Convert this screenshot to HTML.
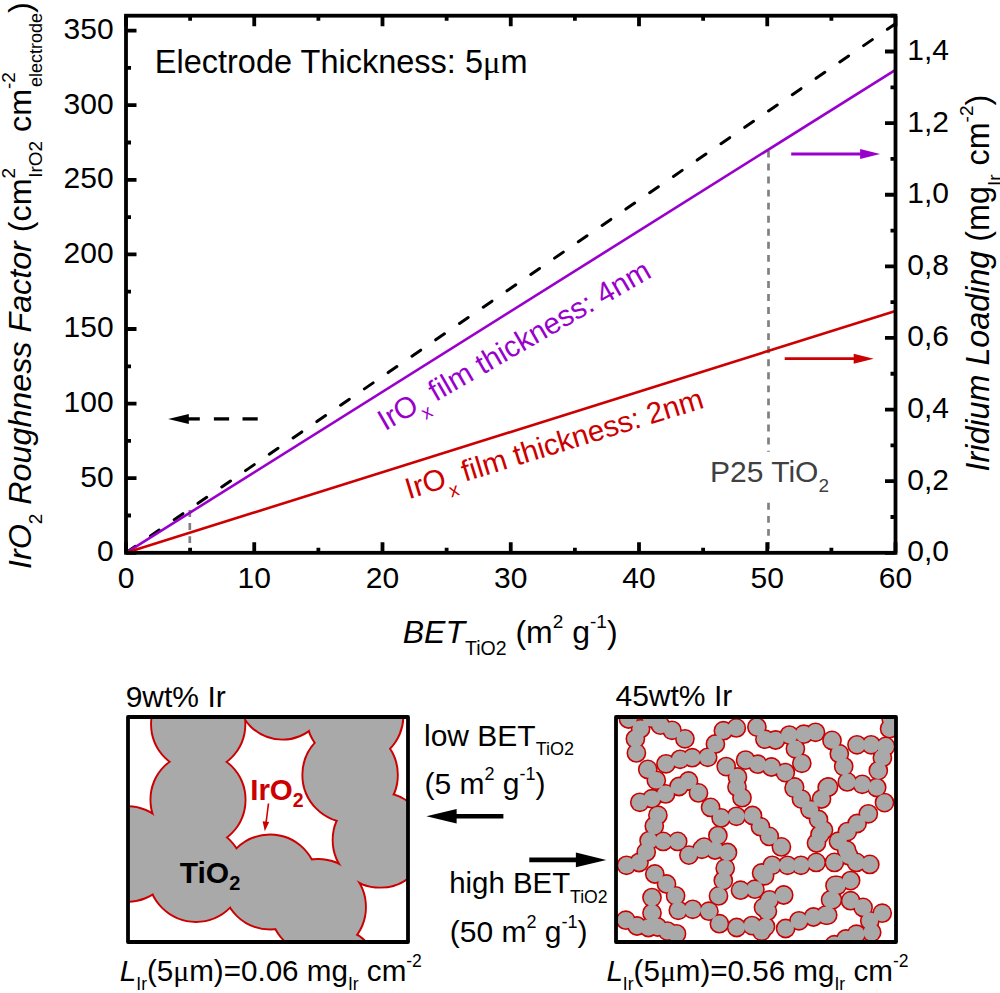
<!DOCTYPE html>
<html><head><meta charset="utf-8">
<style>
html,body{margin:0;padding:0;background:#fff;width:1000px;height:993px;overflow:hidden}
svg{display:block}
text{font-family:"Liberation Sans",sans-serif;}
.it{font-style:italic}
</style></head><body>
<svg width="1000" height="993" viewBox="0 0 1000 993">
<!-- ===== CHART ===== -->
<g id="chart">
<!-- gray dashed verticals -->
<line x1="189.8" y1="510" x2="189.8" y2="551" stroke="#808080" stroke-width="2.7" stroke-dasharray="6.9 6.2"/>
<line x1="768.5" y1="150.5" x2="768.5" y2="551" stroke="#808080" stroke-width="2.7" stroke-dasharray="6.9 6.15"/>
<rect x="760" y="451.8" width="17" height="50.2" fill="#fff"/>
<!-- data lines -->
<line x1="126" y1="552.8" x2="895.5" y2="23.7" stroke="#000" stroke-width="3" stroke-dasharray="10.6 18.25" stroke-dashoffset="-0.8" stroke-linecap="round"/>
<line x1="126" y1="552.8" x2="895.5" y2="69.8" stroke="#9900CC" stroke-width="2.6"/>
<line x1="126" y1="552.8" x2="895.5" y2="311" stroke="#CC0000" stroke-width="2.6"/>
<!-- arrows -->
<line x1="791.2" y1="154" x2="862" y2="154" stroke="#9900CC" stroke-width="2.8"/>
<polygon points="880.1,154 860.1,149 860.1,159" fill="#9900CC"/>
<line x1="784.7" y1="358.7" x2="856" y2="358.7" stroke="#CC0000" stroke-width="2.8"/>
<polygon points="873.7,358.7 853.7,353.7 853.7,363.7" fill="#CC0000"/>
<polygon points="168.2,418.9 188.8,413.9 188.8,423.9" fill="#000"/>
<line x1="186" y1="418.9" x2="199.8" y2="418.9" stroke="#000" stroke-width="3.3"/>
<line x1="213.9" y1="418.9" x2="229.1" y2="418.9" stroke="#000" stroke-width="3.3"/>
<line x1="242.5" y1="418.9" x2="257.7" y2="418.9" stroke="#000" stroke-width="3.3"/>
<!-- frame -->
<rect x="126" y="15.7" width="769.5" height="537.1" fill="none" stroke="#000" stroke-width="3.8"/>
<!-- ticks -->
<path d="M126,552.80h10.5M126,515.50h5M126,478.20h10.5M126,440.90h5M126,403.61h10.5M126,366.31h5M126,329.01h10.5M126,291.71h5M126,254.41h10.5M126,217.11h5M126,179.81h10.5M126,142.52h5M126,105.22h10.5M126,67.92h5M126,30.62h10.5M895.5,552.80h-10.5M895.5,516.99h-5M895.5,481.19h-10.5M895.5,445.38h-5M895.5,409.57h-10.5M895.5,373.77h-5M895.5,337.96h-10.5M895.5,302.15h-5M895.5,266.35h-10.5M895.5,230.54h-5M895.5,194.73h-10.5M895.5,158.93h-5M895.5,123.12h-10.5M895.5,87.31h-5M895.5,51.51h-10.5M895.5,15.70h-5M126.00,552.8v-10.5M126.00,15.7v10.5M190.12,552.8v-5M190.12,15.7v5M254.25,552.8v-10.5M254.25,15.7v10.5M318.38,552.8v-5M318.38,15.7v5M382.50,552.8v-10.5M382.50,15.7v10.5M446.62,552.8v-5M446.62,15.7v5M510.75,552.8v-10.5M510.75,15.7v10.5M574.88,552.8v-5M574.88,15.7v5M639.00,552.8v-10.5M639.00,15.7v10.5M703.12,552.8v-5M703.12,15.7v5M767.25,552.8v-10.5M767.25,15.7v10.5M831.38,552.8v-5M831.38,15.7v5M895.50,552.8v-10.5M895.50,15.7v10.5" stroke="#000" stroke-width="3.8" fill="none"/>
<!-- tick labels -->
<g font-size="30" text-anchor="end"><text x="113.6" y="561.20">0</text><text x="113.6" y="486.60">50</text><text x="113.6" y="412.01">100</text><text x="113.6" y="337.41">150</text><text x="113.6" y="262.81">200</text><text x="113.6" y="188.21">250</text><text x="113.6" y="113.62">300</text><text x="113.6" y="39.02">350</text></g>
<g font-size="30" text-anchor="middle"><text x="126.00" y="588">0</text><text x="254.25" y="588">10</text><text x="382.50" y="588">20</text><text x="510.75" y="588">30</text><text x="639.00" y="588">40</text><text x="767.25" y="588">50</text><text x="895.50" y="588">60</text></g>
<g font-size="30" text-anchor="start"><text x="907.3" y="561.20">0,0</text><text x="907.3" y="489.59">0,2</text><text x="907.3" y="417.97">0,4</text><text x="907.3" y="346.36">0,6</text><text x="907.3" y="274.75">0,8</text><text x="907.3" y="203.13">1,0</text><text x="907.3" y="131.52">1,2</text><text x="907.3" y="59.91">1,4</text></g>

<text x="154.8" y="72.7" font-size="32.5">Electrode Thickness: 5<tspan font-family="Liberation Serif">μ</tspan>m</text>
<text x="710" y="482.4" font-size="30" fill="#404040">P25 TiO<tspan font-size="19" dy="10">2</tspan></text>

<g transform="translate(385,431.3) rotate(-30)" fill="#9900CC" font-size="29.5"><text x="0" y="0">IrO<tspan font-size="19" dy="10.5">x</tspan><tspan dy="-10.5"> film thickness: 4nm</tspan></text></g>
<g transform="translate(408.8,499.2) rotate(-17.2)" fill="#CC0000" font-size="29.6"><text x="0" y="0">IrO<tspan font-size="19" dy="11">x</tspan><tspan dy="-11"> film thickness: 2nm</tspan></text></g>

<!-- axis labels -->
<text x="402.75" y="643" font-size="32"><tspan class="it">BET</tspan><tspan font-size="19.5" dy="11.5">TiO2</tspan><tspan dy="-11.5"> (m</tspan><tspan font-size="19" dy="-15.5">2</tspan><tspan dy="15.5"> g</tspan><tspan font-size="19" dy="-15.5">-1</tspan><tspan dy="15.5">)</tspan></text>

<g transform="translate(30.8,569) rotate(-90)"><text x="0" y="0" font-size="32.25"><tspan class="it">IrO</tspan><tspan font-size="19" dy="11">2</tspan><tspan class="it" dy="-11"> Roughness Factor</tspan><tspan> (cm</tspan><tspan font-size="19" dy="-16">2</tspan><tspan font-size="19" dx="-10" dy="27">IrO2</tspan><tspan dy="-11"> cm</tspan><tspan font-size="19" dy="-16">-2</tspan><tspan font-size="18" dx="-15" dy="27">electrode</tspan><tspan dy="-11">)</tspan></text></g>

<g transform="translate(988.6,471.5) rotate(-90)"><text x="0" y="0" font-size="32.3"><tspan class="it">Iridium Loading</tspan><tspan> (mg</tspan><tspan font-size="19" dy="12">Ir</tspan><tspan dy="-12"> cm</tspan><tspan font-size="19" dy="-16">-2</tspan><tspan dy="16">)</tspan></text></g>
</g>

<!-- ===== BOTTOM PANELS ===== -->
<g id="panels">
<text x="125.7" y="706.6" font-size="30">9wt% Ir</text>
<text x="615.5" y="706.3" font-size="30">45wt% Ir</text>

<defs>
<clipPath id="clipL"><rect x="128" y="717" width="280" height="225"/></clipPath>
<clipPath id="clipR"><rect x="616" y="717" width="280" height="225"/></clipPath>
</defs>
<g clip-path="url(#clipL)"><g fill="none" stroke="#CC0000" stroke-width="3.8"><circle cx="198.2" cy="724.3" r="46.2"/><circle cx="198.0" cy="799.8" r="46.6"/><circle cx="127.1" cy="854.0" r="46.9"/><circle cx="196" cy="874" r="47"/><circle cx="270" cy="882" r="46.5"/><circle cx="318" cy="907" r="47"/><circle cx="333" cy="975" r="46"/><circle cx="282.4" cy="694.6" r="44.1"/><circle cx="350.1" cy="774.9" r="46.8"/><circle cx="354.8" cy="715.2" r="47.7"/><circle cx="380.2" cy="840.1" r="46.6"/></g><g fill="#A9A9A9"><circle cx="198.2" cy="724.3" r="46.2"/><circle cx="198.0" cy="799.8" r="46.6"/><circle cx="127.1" cy="854.0" r="46.9"/><circle cx="196" cy="874" r="47"/><circle cx="270" cy="882" r="46.5"/><circle cx="318" cy="907" r="47"/><circle cx="333" cy="975" r="46"/><circle cx="282.4" cy="694.6" r="44.1"/><circle cx="350.1" cy="774.9" r="46.8"/><circle cx="354.8" cy="715.2" r="47.7"/><circle cx="380.2" cy="840.1" r="46.6"/></g></g>
<text x="250.2" y="800.2" font-size="29.5" font-weight="bold" fill="#CC0000">IrO<tspan font-size="19.5" dy="7">2</tspan></text>
<line x1="268.5" y1="803.5" x2="266" y2="823" stroke="#CC0000" stroke-width="1.6"/>
<polygon points="264.8,831.3 262.6,821.3 269.2,822.1" fill="#CC0000"/>
<text x="179.7" y="883.2" font-size="30" font-weight="bold" fill="#000">TiO<tspan font-size="20" dy="7">2</tspan></text>
<g clip-path="url(#clipR)"><g fill="none" stroke="#CC0000" stroke-width="3.2"><circle cx="628.5" cy="719.0" r="8.3"/><circle cx="640.6" cy="728.7" r="8.3"/><circle cx="651.1" cy="718.2" r="8.3"/><circle cx="660.3" cy="725.1" r="8.3"/><circle cx="672.0" cy="730.3" r="8.3"/><circle cx="684.9" cy="738.8" r="8.3"/><circle cx="635.4" cy="738.8" r="8.3"/><circle cx="636.4" cy="752.9" r="8.3"/><circle cx="666.0" cy="763.8" r="8.3"/><circle cx="680.1" cy="759.3" r="8.3"/><circle cx="692.2" cy="757.7" r="8.3"/><circle cx="647.8" cy="769.4" r="8.3"/><circle cx="656.3" cy="780.3" r="8.3"/><circle cx="707.7" cy="757.3" r="8.3"/><circle cx="715.4" cy="744.0" r="8.3"/><circle cx="723.4" cy="730.7" r="8.3"/><circle cx="736.3" cy="727.9" r="8.3"/><circle cx="756.9" cy="727.1" r="8.3"/><circle cx="764.9" cy="739.2" r="8.3"/><circle cx="726.2" cy="766.6" r="8.3"/><circle cx="745.6" cy="760.1" r="8.3"/><circle cx="757.7" cy="764.2" r="8.3"/><circle cx="771.4" cy="767.0" r="8.3"/><circle cx="737.5" cy="777.0" r="8.3"/><circle cx="775.6" cy="740.0" r="8.3"/><circle cx="789.3" cy="735.1" r="8.3"/><circle cx="803.8" cy="734.2" r="8.3"/><circle cx="815.5" cy="732.3" r="8.3"/><circle cx="795.4" cy="748.8" r="8.3"/><circle cx="801.8" cy="763.3" r="8.3"/><circle cx="785.3" cy="772.6" r="8.3"/><circle cx="794.1" cy="788.3" r="8.3"/><circle cx="827.2" cy="787.5" r="8.3"/><circle cx="832.0" cy="740.4" r="8.3"/><circle cx="839.3" cy="753.7" r="8.3"/><circle cx="843.7" cy="766.6" r="8.3"/><circle cx="857.0" cy="744.8" r="8.3"/><circle cx="871.1" cy="744.8" r="8.3"/><circle cx="889.6" cy="728.7" r="8.3"/><circle cx="891.2" cy="719.0" r="8.3"/><circle cx="885.6" cy="746.4" r="8.3"/><circle cx="882.4" cy="757.7" r="8.3"/><circle cx="878.3" cy="770.6" r="8.3"/><circle cx="862.2" cy="784.3" r="8.3"/><circle cx="876.7" cy="787.5" r="8.3"/><circle cx="847.3" cy="781.9" r="8.3"/><circle cx="639.8" cy="802.3" r="8.3"/><circle cx="651.9" cy="798.7" r="8.3"/><circle cx="665.6" cy="793.9" r="8.3"/><circle cx="679.0" cy="786.5" r="8.3"/><circle cx="657.9" cy="815.2" r="8.3"/><circle cx="654.3" cy="826.1" r="8.3"/><circle cx="649.1" cy="840.6" r="8.3"/><circle cx="663.2" cy="841.4" r="8.3"/><circle cx="677.7" cy="841.4" r="8.3"/><circle cx="688.9" cy="855.1" r="8.3"/><circle cx="646.2" cy="851.9" r="8.3"/><circle cx="639.0" cy="862.5" r="8.3"/><circle cx="626.5" cy="865.3" r="8.3"/><circle cx="698.5" cy="792.9" r="8.3"/><circle cx="710.6" cy="807.4" r="8.3"/><circle cx="721.1" cy="817.9" r="8.3"/><circle cx="736.4" cy="816.3" r="8.3"/><circle cx="752.5" cy="815.5" r="8.3"/><circle cx="737.0" cy="787.0" r="8.3"/><circle cx="742.0" cy="797.7" r="8.3"/><circle cx="717.9" cy="835.6" r="8.3"/><circle cx="701.8" cy="849.3" r="8.3"/><circle cx="727.5" cy="852.5" r="8.3"/><circle cx="760.5" cy="826.7" r="8.3"/><circle cx="769.3" cy="836.4" r="8.3"/><circle cx="781.4" cy="846.9" r="8.3"/><circle cx="794.6" cy="787.0" r="8.3"/><circle cx="801.4" cy="799.1" r="8.3"/><circle cx="810.0" cy="809.5" r="8.3"/><circle cx="818.5" cy="819.5" r="8.3"/><circle cx="823.5" cy="830.0" r="8.3"/><circle cx="816.5" cy="843.0" r="8.3"/><circle cx="828.5" cy="787.0" r="8.3"/><circle cx="821.5" cy="799.0" r="8.3"/><circle cx="820.0" cy="834.5" r="8.3"/><circle cx="688.5" cy="781.0" r="8.3"/><circle cx="715.0" cy="850.0" r="8.3"/><circle cx="657.5" cy="927.0" r="8.3"/><circle cx="884.5" cy="802.6" r="8.3"/><circle cx="868.3" cy="813.8" r="8.3"/><circle cx="857.1" cy="823.5" r="8.3"/><circle cx="847.4" cy="831.6" r="8.3"/><circle cx="838.5" cy="841.2" r="8.3"/><circle cx="846.6" cy="850.1" r="8.3"/><circle cx="654.8" cy="874.0" r="8.3"/><circle cx="666.5" cy="884.0" r="8.3"/><circle cx="675.6" cy="895.8" r="8.3"/><circle cx="678.3" cy="910.3" r="8.3"/><circle cx="652.0" cy="897.6" r="8.3"/><circle cx="652.0" cy="913.0" r="8.3"/><circle cx="625.8" cy="920.2" r="8.3"/><circle cx="637.0" cy="926.0" r="8.3"/><circle cx="648.4" cy="927.5" r="8.3"/><circle cx="667.4" cy="931.1" r="8.3"/><circle cx="676.5" cy="933.8" r="8.3"/><circle cx="704.1" cy="847.1" r="8.3"/><circle cx="725.2" cy="868.2" r="8.3"/><circle cx="723.3" cy="880.6" r="8.3"/><circle cx="718.5" cy="895.9" r="8.3"/><circle cx="692.7" cy="909.3" r="8.3"/><circle cx="708.9" cy="911.2" r="8.3"/><circle cx="719.4" cy="923.7" r="8.3"/><circle cx="740.5" cy="890.2" r="8.3"/><circle cx="754.9" cy="889.2" r="8.3"/><circle cx="761.6" cy="873.0" r="8.3"/><circle cx="763.5" cy="907.4" r="8.3"/><circle cx="736.7" cy="927.5" r="8.3"/><circle cx="752.0" cy="925.6" r="8.3"/><circle cx="761.6" cy="931.3" r="8.3"/><circle cx="772.2" cy="865.3" r="8.3"/><circle cx="787.5" cy="865.3" r="8.3"/><circle cx="800.9" cy="865.3" r="8.3"/><circle cx="816.2" cy="862.4" r="8.3"/><circle cx="834.4" cy="862.4" r="8.3"/><circle cx="764.6" cy="875.8" r="8.3"/><circle cx="783.7" cy="895.0" r="8.3"/><circle cx="769.4" cy="899.8" r="8.3"/><circle cx="767.4" cy="911.2" r="8.3"/><circle cx="765.5" cy="926.6" r="8.3"/><circle cx="785.6" cy="928.5" r="8.3"/><circle cx="799.0" cy="920.8" r="8.3"/><circle cx="813.4" cy="917.0" r="8.3"/><circle cx="827.7" cy="915.1" r="8.3"/><circle cx="830.6" cy="899.8" r="8.3"/><circle cx="835.0" cy="885.4" r="8.3"/><circle cx="848.7" cy="855.7" r="8.3"/><circle cx="856.4" cy="862.4" r="8.3"/><circle cx="869.8" cy="864.4" r="8.3"/><circle cx="850.6" cy="880.6" r="8.3"/><circle cx="837.2" cy="885.4" r="8.3"/><circle cx="832.4" cy="899.8" r="8.3"/><circle cx="825.7" cy="915.1" r="8.3"/><circle cx="850.6" cy="900.7" r="8.3"/><circle cx="863.1" cy="907.4" r="8.3"/><circle cx="882.2" cy="913.2" r="8.3"/><circle cx="869.8" cy="920.8" r="8.3"/><circle cx="871.7" cy="932.3" r="8.3"/><circle cx="856.4" cy="934.2" r="8.3"/><circle cx="845.8" cy="939.0" r="8.3"/><circle cx="834.4" cy="944.7" r="8.3"/></g><g fill="#A9A9A9"><circle cx="628.5" cy="719.0" r="8.3"/><circle cx="640.6" cy="728.7" r="8.3"/><circle cx="651.1" cy="718.2" r="8.3"/><circle cx="660.3" cy="725.1" r="8.3"/><circle cx="672.0" cy="730.3" r="8.3"/><circle cx="684.9" cy="738.8" r="8.3"/><circle cx="635.4" cy="738.8" r="8.3"/><circle cx="636.4" cy="752.9" r="8.3"/><circle cx="666.0" cy="763.8" r="8.3"/><circle cx="680.1" cy="759.3" r="8.3"/><circle cx="692.2" cy="757.7" r="8.3"/><circle cx="647.8" cy="769.4" r="8.3"/><circle cx="656.3" cy="780.3" r="8.3"/><circle cx="707.7" cy="757.3" r="8.3"/><circle cx="715.4" cy="744.0" r="8.3"/><circle cx="723.4" cy="730.7" r="8.3"/><circle cx="736.3" cy="727.9" r="8.3"/><circle cx="756.9" cy="727.1" r="8.3"/><circle cx="764.9" cy="739.2" r="8.3"/><circle cx="726.2" cy="766.6" r="8.3"/><circle cx="745.6" cy="760.1" r="8.3"/><circle cx="757.7" cy="764.2" r="8.3"/><circle cx="771.4" cy="767.0" r="8.3"/><circle cx="737.5" cy="777.0" r="8.3"/><circle cx="775.6" cy="740.0" r="8.3"/><circle cx="789.3" cy="735.1" r="8.3"/><circle cx="803.8" cy="734.2" r="8.3"/><circle cx="815.5" cy="732.3" r="8.3"/><circle cx="795.4" cy="748.8" r="8.3"/><circle cx="801.8" cy="763.3" r="8.3"/><circle cx="785.3" cy="772.6" r="8.3"/><circle cx="794.1" cy="788.3" r="8.3"/><circle cx="827.2" cy="787.5" r="8.3"/><circle cx="832.0" cy="740.4" r="8.3"/><circle cx="839.3" cy="753.7" r="8.3"/><circle cx="843.7" cy="766.6" r="8.3"/><circle cx="857.0" cy="744.8" r="8.3"/><circle cx="871.1" cy="744.8" r="8.3"/><circle cx="889.6" cy="728.7" r="8.3"/><circle cx="891.2" cy="719.0" r="8.3"/><circle cx="885.6" cy="746.4" r="8.3"/><circle cx="882.4" cy="757.7" r="8.3"/><circle cx="878.3" cy="770.6" r="8.3"/><circle cx="862.2" cy="784.3" r="8.3"/><circle cx="876.7" cy="787.5" r="8.3"/><circle cx="847.3" cy="781.9" r="8.3"/><circle cx="639.8" cy="802.3" r="8.3"/><circle cx="651.9" cy="798.7" r="8.3"/><circle cx="665.6" cy="793.9" r="8.3"/><circle cx="679.0" cy="786.5" r="8.3"/><circle cx="657.9" cy="815.2" r="8.3"/><circle cx="654.3" cy="826.1" r="8.3"/><circle cx="649.1" cy="840.6" r="8.3"/><circle cx="663.2" cy="841.4" r="8.3"/><circle cx="677.7" cy="841.4" r="8.3"/><circle cx="688.9" cy="855.1" r="8.3"/><circle cx="646.2" cy="851.9" r="8.3"/><circle cx="639.0" cy="862.5" r="8.3"/><circle cx="626.5" cy="865.3" r="8.3"/><circle cx="698.5" cy="792.9" r="8.3"/><circle cx="710.6" cy="807.4" r="8.3"/><circle cx="721.1" cy="817.9" r="8.3"/><circle cx="736.4" cy="816.3" r="8.3"/><circle cx="752.5" cy="815.5" r="8.3"/><circle cx="737.0" cy="787.0" r="8.3"/><circle cx="742.0" cy="797.7" r="8.3"/><circle cx="717.9" cy="835.6" r="8.3"/><circle cx="701.8" cy="849.3" r="8.3"/><circle cx="727.5" cy="852.5" r="8.3"/><circle cx="760.5" cy="826.7" r="8.3"/><circle cx="769.3" cy="836.4" r="8.3"/><circle cx="781.4" cy="846.9" r="8.3"/><circle cx="794.6" cy="787.0" r="8.3"/><circle cx="801.4" cy="799.1" r="8.3"/><circle cx="810.0" cy="809.5" r="8.3"/><circle cx="818.5" cy="819.5" r="8.3"/><circle cx="823.5" cy="830.0" r="8.3"/><circle cx="816.5" cy="843.0" r="8.3"/><circle cx="828.5" cy="787.0" r="8.3"/><circle cx="821.5" cy="799.0" r="8.3"/><circle cx="820.0" cy="834.5" r="8.3"/><circle cx="688.5" cy="781.0" r="8.3"/><circle cx="715.0" cy="850.0" r="8.3"/><circle cx="657.5" cy="927.0" r="8.3"/><circle cx="884.5" cy="802.6" r="8.3"/><circle cx="868.3" cy="813.8" r="8.3"/><circle cx="857.1" cy="823.5" r="8.3"/><circle cx="847.4" cy="831.6" r="8.3"/><circle cx="838.5" cy="841.2" r="8.3"/><circle cx="846.6" cy="850.1" r="8.3"/><circle cx="654.8" cy="874.0" r="8.3"/><circle cx="666.5" cy="884.0" r="8.3"/><circle cx="675.6" cy="895.8" r="8.3"/><circle cx="678.3" cy="910.3" r="8.3"/><circle cx="652.0" cy="897.6" r="8.3"/><circle cx="652.0" cy="913.0" r="8.3"/><circle cx="625.8" cy="920.2" r="8.3"/><circle cx="637.0" cy="926.0" r="8.3"/><circle cx="648.4" cy="927.5" r="8.3"/><circle cx="667.4" cy="931.1" r="8.3"/><circle cx="676.5" cy="933.8" r="8.3"/><circle cx="704.1" cy="847.1" r="8.3"/><circle cx="725.2" cy="868.2" r="8.3"/><circle cx="723.3" cy="880.6" r="8.3"/><circle cx="718.5" cy="895.9" r="8.3"/><circle cx="692.7" cy="909.3" r="8.3"/><circle cx="708.9" cy="911.2" r="8.3"/><circle cx="719.4" cy="923.7" r="8.3"/><circle cx="740.5" cy="890.2" r="8.3"/><circle cx="754.9" cy="889.2" r="8.3"/><circle cx="761.6" cy="873.0" r="8.3"/><circle cx="763.5" cy="907.4" r="8.3"/><circle cx="736.7" cy="927.5" r="8.3"/><circle cx="752.0" cy="925.6" r="8.3"/><circle cx="761.6" cy="931.3" r="8.3"/><circle cx="772.2" cy="865.3" r="8.3"/><circle cx="787.5" cy="865.3" r="8.3"/><circle cx="800.9" cy="865.3" r="8.3"/><circle cx="816.2" cy="862.4" r="8.3"/><circle cx="834.4" cy="862.4" r="8.3"/><circle cx="764.6" cy="875.8" r="8.3"/><circle cx="783.7" cy="895.0" r="8.3"/><circle cx="769.4" cy="899.8" r="8.3"/><circle cx="767.4" cy="911.2" r="8.3"/><circle cx="765.5" cy="926.6" r="8.3"/><circle cx="785.6" cy="928.5" r="8.3"/><circle cx="799.0" cy="920.8" r="8.3"/><circle cx="813.4" cy="917.0" r="8.3"/><circle cx="827.7" cy="915.1" r="8.3"/><circle cx="830.6" cy="899.8" r="8.3"/><circle cx="835.0" cy="885.4" r="8.3"/><circle cx="848.7" cy="855.7" r="8.3"/><circle cx="856.4" cy="862.4" r="8.3"/><circle cx="869.8" cy="864.4" r="8.3"/><circle cx="850.6" cy="880.6" r="8.3"/><circle cx="837.2" cy="885.4" r="8.3"/><circle cx="832.4" cy="899.8" r="8.3"/><circle cx="825.7" cy="915.1" r="8.3"/><circle cx="850.6" cy="900.7" r="8.3"/><circle cx="863.1" cy="907.4" r="8.3"/><circle cx="882.2" cy="913.2" r="8.3"/><circle cx="869.8" cy="920.8" r="8.3"/><circle cx="871.7" cy="932.3" r="8.3"/><circle cx="856.4" cy="934.2" r="8.3"/><circle cx="845.8" cy="939.0" r="8.3"/><circle cx="834.4" cy="944.7" r="8.3"/></g></g>
<rect x="128" y="717" width="280" height="225" fill="none" stroke="#000" stroke-width="3.8" stroke-linejoin="round"/>
<rect x="616" y="717" width="280" height="225" fill="none" stroke="#000" stroke-width="3.8" stroke-linejoin="round"/>

<text x="424" y="745.6" font-size="30">low BET<tspan font-size="18" dy="9.6">TiO2</tspan></text>
<text x="424.5" y="794" font-size="30">(5 m<tspan font-size="18" dy="-14.3">2</tspan><tspan dy="14.3"> g</tspan><tspan font-size="18" dy="-14.3">-1</tspan><tspan dy="14.3">)</tspan></text>
<text x="449.2" y="893.1" font-size="29.4">high BET<tspan font-size="17.6" dy="10.2">TiO2</tspan></text>
<text x="449.8" y="941.8" font-size="30">(50 m<tspan font-size="18" dy="-14.3">2</tspan><tspan dy="14.3"> g</tspan><tspan font-size="18" dy="-14.3">-1</tspan><tspan dy="14.3">)</tspan></text>
<!-- big arrows -->
<polygon points="426.4,816.2 456.6,808.9 456.6,823.5" fill="#000"/>
<line x1="450" y1="816.2" x2="503.4" y2="816.2" stroke="#000" stroke-width="4.6"/>
<polygon points="606.3,859.9 575.9,852.6 575.9,867.2" fill="#000"/>
<line x1="529.3" y1="859.9" x2="580" y2="859.9" stroke="#000" stroke-width="4.6"/>

<text x="119.8" y="981.4" font-size="29.6"><tspan class="it">L</tspan><tspan font-size="17.5" dy="9">Ir</tspan><tspan dy="-9">(5<tspan font-family="Liberation Serif">μ</tspan>m)=0.06 mg</tspan><tspan font-size="17.5" dy="9">Ir</tspan><tspan dy="-9"> cm</tspan><tspan font-size="17.5" dy="-14">-2</tspan></text>
<text x="606.4" y="981.4" font-size="29.6"><tspan class="it">L</tspan><tspan font-size="17.5" dy="9">Ir</tspan><tspan dy="-9">(5<tspan font-family="Liberation Serif">μ</tspan>m)=0.56 mg</tspan><tspan font-size="17.5" dy="9">Ir</tspan><tspan dy="-9"> cm</tspan><tspan font-size="17.5" dy="-14">-2</tspan></text>
</g>
</svg>
</body></html>
